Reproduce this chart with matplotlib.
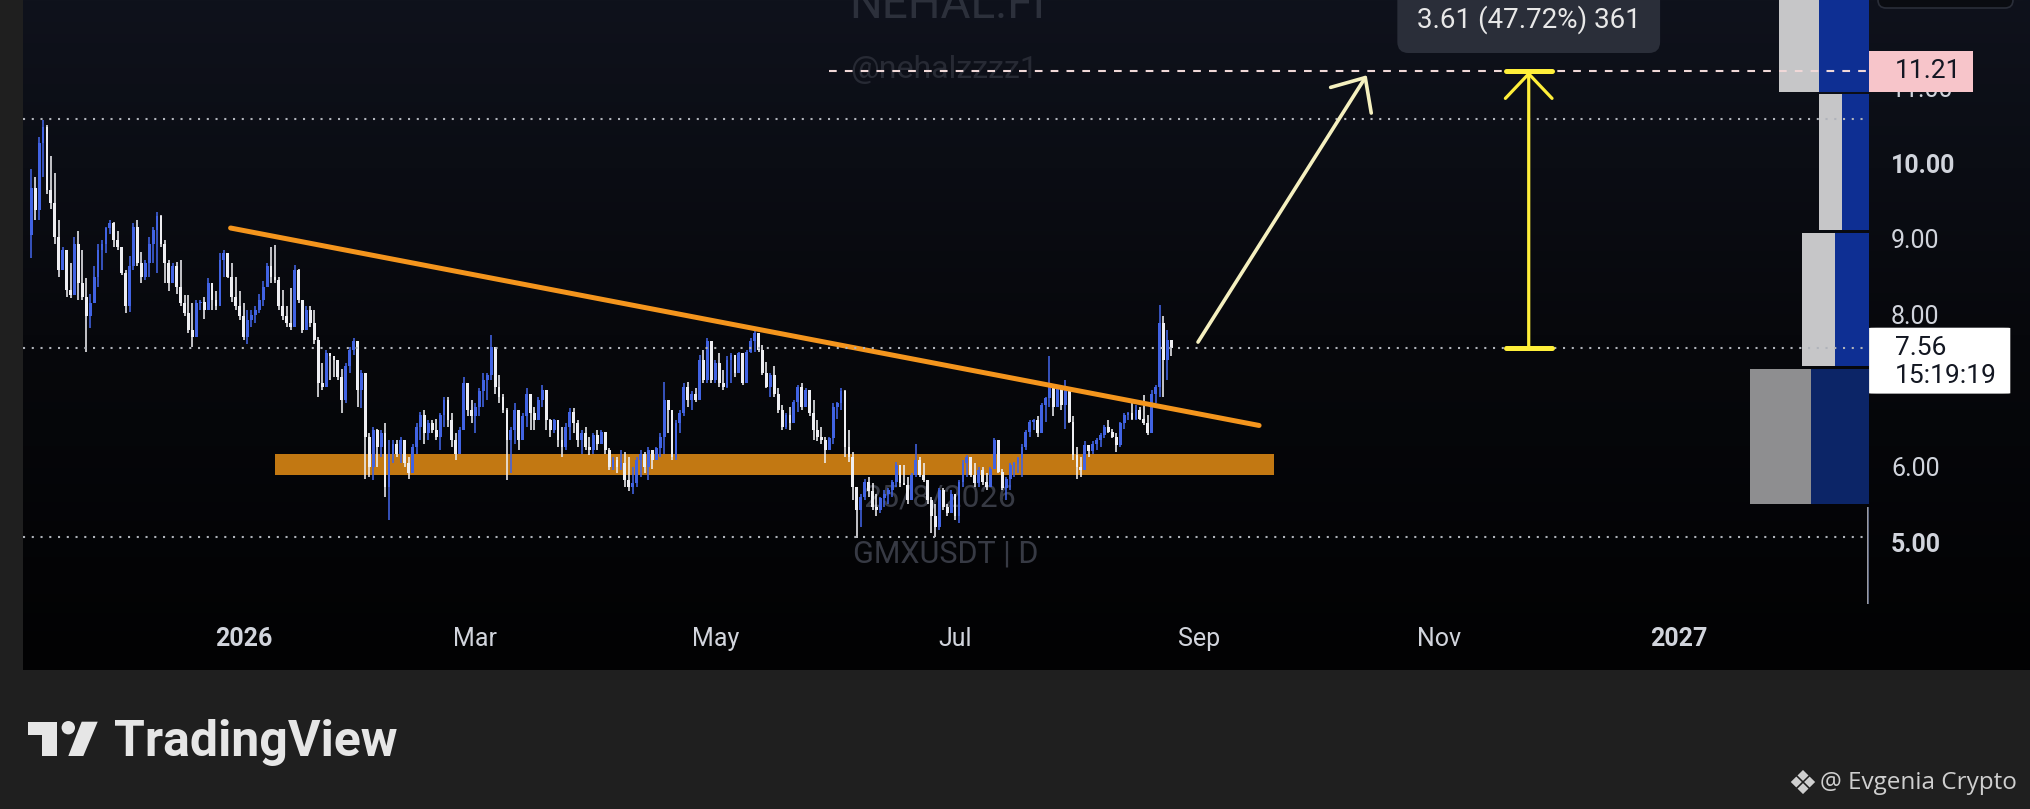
import numpy as np
import pandas as pd
import matplotlib
matplotlib.use("Agg")
import matplotlib.pyplot as plt
import matplotlib.dates as mdates
from matplotlib.colors import LinearSegmentedColormap
from matplotlib.patches import Rectangle, Polygon, Circle, FancyBboxPatch

plt.rcParams['font.family'] = ['Roboto', 'DejaVu Sans']

# ---- GMXUSDT daily candles ----
first_day = '2025-11-08'
first_open = 9.05
closes = [
    9.67, 9.38, 10.26, 10.48, 9.65, 9.47, 9.03, 8.59, 8.85, 8.33,
    8.26, 8.94, 8.42, 8.24, 7.98, 8.15, 8.50, 8.85, 8.94, 9.14,
    9.21, 8.99, 8.90, 8.55, 8.11, 8.64, 9.16, 8.68, 8.50, 8.68,
    8.94, 9.12, 9.30, 8.94, 8.68, 8.42, 8.64, 8.37, 8.15, 8.02,
    7.80, 7.71, 8.15, 8.17, 8.06, 8.42, 8.20, 8.11, 8.72, 8.81,
    8.50, 8.24, 8.11, 7.98, 7.71, 7.93, 8.00, 8.06, 8.20, 8.37,
    8.64, 8.50, 8.46, 8.11, 7.98, 7.89, 7.84, 8.59, 8.20, 7.80,
    8.06, 7.89, 7.67, 7.10, 7.05,
    7.49, 7.45, 7.40, 7.18, 6.88, 7.32, 7.54, 7.65, 7.01, 7.23,
    6.39, 5.99, 6.48, 6.26, 6.44, 5.73, 6.17, 6.30, 6.17, 6.35,
    6.04, 5.91, 6.26, 6.52, 6.68, 6.44, 6.57, 6.48, 6.39, 6.68,
    6.88, 6.61, 6.35, 6.17, 6.48, 7.10, 6.74, 6.66, 6.79, 6.99,
    7.14, 7.21, 7.58, 7.05, 6.92, 6.74, 6.35, 6.48, 6.74, 6.35,
    6.66, 6.96, 6.70, 6.61, 6.88, 7.01, 6.61, 6.48, 6.61, 6.35,
    6.26, 6.52, 6.72, 6.57, 6.35, 6.44, 6.26, 6.22, 6.41, 6.30,
    6.46, 6.22, 5.99, 6.08, 5.99, 6.04, 5.82, 5.73, 5.78, 6.08,
    6.17, 5.99, 6.22, 6.08, 6.24, 6.39, 6.88, 6.74, 6.13, 6.57,
    6.70, 7.05, 6.88, 6.96,
    6.88, 7.40, 7.14, 7.65, 7.14, 7.36, 7.10, 7.05, 7.40, 7.47,
    7.23, 7.49, 7.10, 7.51, 7.65, 7.76, 7.54, 7.23, 7.05, 7.21,
    6.96, 6.74, 6.52, 6.68, 6.57, 6.85, 7.05, 6.79, 7.01, 6.70,
    6.48, 6.39, 6.35, 6.22, 6.37, 6.79, 6.83, 6.99, 6.26, 6.13,
    5.73, 5.42, 5.60, 5.80, 5.67, 5.47, 5.42, 5.58, 5.64, 5.69,
    5.80, 6.02, 5.78, 5.76, 5.56, 5.89, 6.08, 5.88, 5.82, 5.56,
    5.34, 5.20, 5.69, 5.47, 5.38, 5.64, 5.34, 5.80, 6.04, 6.13,
    5.89, 5.78, 5.95, 5.80, 5.73, 5.97,
    6.35, 5.93, 5.72, 5.84, 6.02, 6.04, 6.11, 6.26, 6.46, 6.59,
    6.61, 6.44, 6.81, 6.90, 7.05, 6.79, 7.03, 6.81, 7.01, 6.59,
    6.15, 5.99, 5.95, 6.28, 6.20, 6.30, 6.35, 6.41, 6.52, 6.46,
    6.39, 6.28, 6.57, 6.68, 6.71, 6.63, 6.74, 6.63, 6.57, 6.44,
    6.96, 7.05, 7.89, 7.40, 7.67, 7.56,
]
highs = [
    9.93, 9.82, 10.35, 10.57, 10.50, 10.09, 9.87, 9.25, 8.90, 8.81,
    8.68, 9.03, 9.10, 8.85, 8.48, 8.28, 8.64, 8.94, 8.99, 9.16,
    9.25, 9.23, 9.10, 8.85, 8.59, 8.77, 9.21, 9.25, 8.83, 8.72,
    9.03, 9.16, 9.36, 9.32, 8.99, 8.72, 8.68, 8.70, 8.72, 8.26,
    8.26, 8.15, 8.20, 8.20, 8.24, 8.48, 8.37, 8.31, 8.81, 8.85,
    8.70, 8.68, 8.50, 8.31, 8.15, 8.06, 8.06, 8.11, 8.28, 8.44,
    8.68, 8.90, 8.92, 8.50, 8.33, 8.11, 8.35, 8.66, 8.61, 8.06,
    8.11, 8.11, 8.06, 7.71, 7.36,
    7.54, 7.47, 7.45, 7.38, 7.29, 7.36, 7.58, 7.69, 7.62, 7.27,
    7.10, 6.44, 6.52, 6.50, 6.48, 6.57, 6.35, 6.35, 6.35, 6.39,
    6.22, 6.13, 6.30, 6.57, 6.72, 6.74, 6.61, 6.61, 6.63, 6.70,
    6.92, 6.92, 6.70, 6.44, 6.52, 7.18, 7.10, 6.88, 6.83, 7.03,
    7.23, 7.23, 7.73, 7.54, 7.21, 6.96, 6.77, 6.52, 6.83, 6.57,
    6.70, 7.03, 6.74, 6.79, 6.92, 7.07, 6.99, 6.63, 6.63, 6.61,
    6.52, 6.57, 6.77, 6.77, 6.61, 6.48, 6.52, 6.39, 6.44, 6.48,
    6.48, 6.44, 6.24, 6.13, 6.13, 6.22, 6.19, 6.13, 5.99, 6.13,
    6.22, 6.19, 6.26, 6.19, 6.26, 6.44, 7.12, 6.88, 6.70, 6.61,
    6.74, 7.10, 7.12, 6.99,
    7.03, 7.47, 7.54, 7.69, 7.47, 7.40, 7.49, 7.27, 7.45, 7.49,
    7.45, 7.51, 7.32, 7.54, 7.69, 7.84, 7.69, 7.60, 7.38, 7.23,
    7.32, 7.03, 6.81, 6.70, 6.79, 6.88, 7.07, 7.10, 7.03, 6.99,
    6.88, 6.61, 6.52, 6.39, 6.39, 6.83, 6.85, 7.03, 7.01, 6.48,
    6.19, 5.73, 5.64, 5.84, 5.86, 5.78, 5.64, 5.60, 5.69, 5.71,
    5.82, 6.06, 5.91, 6.02, 5.86, 5.91, 6.30, 6.13, 6.04, 5.80,
    5.60, 5.51, 5.71, 5.71, 5.51, 5.69, 5.64, 5.82, 6.08, 6.15,
    6.04, 6.04, 5.99, 5.99, 5.91, 5.99,
    6.37, 6.13, 5.97, 5.86, 6.04, 6.06, 6.13, 6.30, 6.48, 6.61,
    6.63, 6.66, 6.83, 6.92, 7.45, 7.07, 7.05, 7.01, 7.14, 6.99,
    6.66, 6.26, 6.13, 6.33, 6.28, 6.33, 6.37, 6.44, 6.55, 6.61,
    6.50, 6.44, 6.59, 6.70, 6.72, 6.85, 6.81, 6.79, 6.94, 6.68,
    7.01, 7.07, 8.13, 7.99, 7.80, 7.67,
]
lows = [
    8.75, 9.25, 9.25, 9.82, 9.60, 9.40, 8.94, 8.50, 8.59, 8.24,
    8.22, 8.33, 8.20, 8.20, 7.51, 7.82, 8.15, 8.37, 8.59, 8.81,
    9.07, 8.90, 8.85, 8.53, 8.02, 8.04, 8.59, 8.64, 8.42, 8.46,
    8.50, 8.68, 8.55, 8.90, 8.42, 8.31, 8.42, 8.28, 8.11, 7.98,
    7.76, 7.58, 7.73, 8.06, 7.95, 8.06, 8.06, 8.06, 8.24, 8.50,
    8.48, 8.17, 8.06, 7.93, 7.67, 7.62, 7.84, 7.89, 8.02, 8.11,
    8.37, 8.42, 8.42, 8.06, 7.93, 7.84, 7.80, 7.84, 8.15, 7.76,
    7.87, 7.84, 7.62, 6.92, 7.01,
    7.10, 7.14, 7.18, 7.14, 6.70, 6.83, 7.23, 7.47, 6.79, 6.77,
    5.84, 5.86, 5.82, 5.99, 6.13, 5.60, 5.29, 6.04, 6.13, 6.04,
    5.99, 5.84, 5.91, 6.17, 6.35, 6.30, 6.35, 6.44, 6.35, 6.22,
    6.52, 6.52, 6.26, 6.08, 6.17, 6.48, 6.66, 6.57, 6.44, 6.66,
    6.79, 6.88, 7.14, 6.96, 6.83, 6.70, 5.82, 5.91, 6.30, 6.22,
    6.35, 6.52, 6.48, 6.48, 6.70, 6.79, 6.48, 6.39, 6.44, 6.26,
    6.13, 6.22, 6.35, 6.44, 6.26, 6.17, 6.22, 6.15, 6.17, 6.22,
    6.30, 6.17, 5.95, 5.95, 5.91, 5.95, 5.73, 5.67, 5.64, 5.73,
    5.86, 5.91, 5.82, 5.97, 6.08, 6.13, 6.17, 6.44, 6.08, 6.08,
    6.44, 6.66, 6.79, 6.74,
    6.85, 6.88, 7.10, 7.10, 7.10, 7.10, 7.05, 7.01, 7.03, 7.10,
    7.18, 7.27, 7.07, 7.14, 7.49, 7.51, 7.51, 7.21, 7.03, 6.92,
    6.92, 6.70, 6.48, 6.50, 6.48, 6.61, 6.72, 6.74, 6.79, 6.66,
    6.35, 6.33, 6.30, 6.04, 6.26, 6.30, 6.63, 6.74, 6.13, 6.06,
    5.56, 5.05, 5.20, 5.56, 5.60, 5.42, 5.34, 5.38, 5.47, 5.51,
    5.60, 5.73, 5.73, 5.75, 5.51, 5.56, 5.86, 5.86, 5.80, 5.51,
    5.12, 5.07, 5.16, 5.42, 5.34, 5.38, 5.29, 5.25, 5.73, 5.86,
    5.86, 5.73, 5.73, 5.75, 5.69, 5.73,
    6.08, 5.91, 5.69, 5.56, 5.69, 5.86, 5.91, 5.86, 6.22, 6.39,
    6.48, 6.39, 6.44, 6.59, 6.79, 6.66, 6.79, 6.74, 6.50, 6.57,
    6.08, 5.84, 5.86, 6.04, 6.13, 6.17, 6.22, 6.26, 6.37, 6.44,
    6.37, 6.19, 6.26, 6.50, 6.61, 6.61, 6.61, 6.61, 6.55, 6.41,
    6.46, 6.83, 6.92, 6.92, 7.14, 7.45,
]

# drawings on the chart
trend_dates = ['2025-12-28 17:00', '2026-09-16 08:00']
trend_prices = [9.145, 6.54]
band_dates = ['2026-01-09 02:00', '2026-09-20 05:00']
band_prices = [5.885, 6.17]
level_lines = [10.58, 7.56, 5.07]
target_price = 11.21
target_from = '2026-05-30'
last_price = 7.56
last_time = '15:19:19'
arrow_from = ('2026-08-31 19:00', 7.64)
arrow_to = ('2026-10-13 17:00', 11.16)
measure_date = '2026-11-23 22:00'
measure_text = '3.61 (47.72%) 361'
measure_label_price = 11.90

price_ticks = [5, 6, 8, 9, 10, 11]
time_ticks = ['2026-01-01', '2026-03-01', '2026-05-01', '2026-07-01',
              '2026-09-01', '2026-11-01', '2027-01-01']
time_labels = ['2026', 'Mar', 'May', 'Jul', 'Sep', 'Nov', '2027']

# visible range volume profile (relative widths)
vp_low = [10.93, 9.11, 7.31, 5.49, 3.68]
vp_high = [12.72, 10.92, 9.09, 7.30, 5.47]
vp_up = [38.6, 20.6, 26.0, 44.6, 1.0]
vp_down = [30.8, 18.0, 26.0, 47.0, 1.0]

BLUE = '#4163e3'
WHITE = '#eeeef2'
TXT = '#d1d4dc'

W, H = 2031, 809
fig = plt.figure(figsize=(W / 100, H / 100), dpi=100, facecolor='#1f1f1f')

# background: chart panel gradient + footer
bg = fig.add_axes([0, 0, 1, 1], zorder=0)
bg.set_xlim(0, W)
bg.set_ylim(H, 0)
bg.axis('off')
grad = np.linspace(0, 1, 256)[:, None]
cmap = LinearSegmentedColormap.from_list('panel', ['#0f121c', '#07080c', '#020203'])
bg.imshow(grad, extent=[23.3, W, 670, 0], cmap=cmap, aspect='auto', zorder=0)
bg.add_patch(FancyBboxPatch((1878, -20), 135, 28, boxstyle='round,pad=0,rounding_size=8',
                            fc='#0a0c11', ec='#2a2e39', lw=1.2, zorder=1))

# TradingView logo
lc = '#e6e6e6'
bg.add_patch(Rectangle((28.3, 721.7), 28.4, 13.3, fc=lc, ec='none'))
bg.add_patch(Rectangle((41.7, 721.7), 15.0, 34.3, fc=lc, ec='none'))
bg.add_patch(Circle((68.3, 727.7), 6.7, fc=lc, ec='none'))
bg.add_patch(Polygon([(81.7, 721.7), (97.7, 721.7), (83.3, 756), (68.3, 756)], closed=True, fc=lc, ec='none'))
bg.text(114, 756, 'TradingView', fontsize=36, fontweight='bold', color=lc, va='baseline', ha='left')

bg.text(1802, 784, '\u2756', family='DejaVu Sans', fontsize=24, color='#cfcfcf', ha='center', va='center')
bg.text(2017, 783, '@ Evgenia Crypto', family=['Open Sans', 'DejaVu Sans'], fontsize=17.5,
        color='#cfcfcf', ha='right', va='center')

# watermarks
fig.text(947 / W, 1 - 18 / H, 'NEHAL.FI', fontsize=33, color='#2c303b', ha='center', va='baseline', zorder=1)
fig.text(944 / W, 1 - 69 / H, '@nehalzzzz1', fontsize=23, color='#272a34', ha='center', va='center', zorder=1)
fig.text(940 / W, 1 - 498 / H, '25/8/2026', fontsize=23, color='#373a44', ha='center', va='center', zorder=1)
fig.text(946 / W, 1 - 554 / H, 'GMXUSDT | D', fontsize=22, color='#373a44', ha='center', va='center', zorder=1)

rect = [23.3 / W, 1 - 603.6 / H, (1869.1 - 23.3) / W, 603.6 / H]
base = mdates.date2num(pd.Timestamp('2026-01-01'))
xlim = (base - 56.02, base + 413.5)
ylim = (4.19, 12.153)

# volume profile under the main pane
vp = fig.add_axes(rect, zorder=1.5)
vp.set_facecolor('none')
vp.axis('off')
vp.set_xlim(1425, 0)
vp.set_ylim(ylim)
vp_lo = np.array(vp_low)
vp_hi = np.array(vp_high)
up_cols = ['#0e2f93', '#0e2f93', '#0e2f93', '#0c2567', '#5d6680']
dn_cols = ['#c6c6c8', '#c6c6c8', '#c6c6c8', '#8e8e90', '#9a9aa0']
vp.barh((vp_lo + vp_hi) / 2, vp_up, height=vp_hi - vp_lo - 0.02, left=0, color=up_cols, lw=0)
vp.barh((vp_lo + vp_hi) / 2, vp_down, height=vp_hi - vp_lo - 0.02, left=vp_up, color=dn_cols, lw=0)

# main price pane
ax = fig.add_axes(rect, zorder=2)
ax.set_facecolor('none')
ax.set_xlim(xlim)
ax.set_ylim(ylim)
for s in ax.spines.values():
    s.set_visible(False)

dates = pd.date_range(first_day, periods=len(closes), freq='D')
x = mdates.date2num(dates)
c = np.array(closes)
o = np.concatenate([[first_open], c[:-1]])
col = np.where(c >= o, BLUE, WHITE)
ax.vlines(x, lows, highs, colors=col, lw=1.15, zorder=3)
ax.bar(x, np.maximum(np.abs(c - o), 0.025), bottom=np.minimum(o, c), width=0.72,
       color=col, lw=0, zorder=3)

bd = mdates.date2num(pd.to_datetime(band_dates))
ax.add_patch(Rectangle((bd[0], band_prices[0]), bd[1] - bd[0], band_prices[1] - band_prices[0],
                       fc='#c27812', ec='none', zorder=2))
td = mdates.date2num(pd.to_datetime(trend_dates))
ax.plot(td, trend_prices, color='#f4951d', lw=3.6, solid_capstyle='round', zorder=4)

for lv in level_lines:
    ax.axhline(lv, color='#b0b3ba', lw=1.5, ls=(0, (1, 3.2)), zorder=5)
ax.hlines(target_price, mdates.date2num(pd.Timestamp(target_from)), xlim[1],
          color='#f0d8d8', lw=1.5, linestyles=[(0, (3.7, 3.9))], zorder=5)

a0 = (mdates.date2num(pd.Timestamp(arrow_from[0])), arrow_from[1])
a1 = (mdates.date2num(pd.Timestamp(arrow_to[0])), arrow_to[1])
ax.annotate('', xy=a1, xytext=a0, zorder=6,
            arrowprops=dict(arrowstyle='->,head_length=1.93,head_width=1.73', mutation_scale=10,
                            color='#f5f0bf', lw=2.6, shrinkA=0, shrinkB=0))

md = mdates.date2num(pd.Timestamp(measure_date))
ax.annotate('', xy=(md, target_price), xytext=(md, last_price), zorder=6,
            arrowprops=dict(arrowstyle='->,head_length=1.77,head_width=1.68', mutation_scale=10,
                            color='#ffef3a', lw=2.3, shrinkA=0, shrinkB=0))
for yy in (last_price, target_price):
    ax.plot([md - 5.8, md + 5.8], [yy, yy], color='#ffef3a', lw=3.6, solid_capstyle='round', zorder=6)
ax.text(md, measure_label_price, measure_text, fontsize=20, color='#e8e8e8', ha='center', va='center',
        zorder=7, bbox=dict(boxstyle='round,pad=0.7,rounding_size=0.4', fc='#2a2e39', ec='none'))

# axes labels
ax.yaxis.tick_right()
ax.set_yticks(price_ticks)
ylabs = ax.set_yticklabels([f'{p:.2f}' for p in price_ticks])
ax.tick_params(axis='y', length=0, pad=15.8, labelsize=18, labelcolor=TXT)
for t in ylabs:
    if t.get_text() in ('10.00', '5.00'):
        t.set_fontweight('bold')
ax.set_xticks(mdates.date2num(pd.to_datetime(time_ticks)))
xlabs = ax.set_xticklabels(time_labels)
ax.tick_params(axis='x', length=0, pad=17, labelsize=18, labelcolor=TXT)
for t in xlabs:
    if t.get_text() in ('2026', '2027'):
        t.set_fontweight('bold')

# price tags on the scale
yx = ax.get_yaxis_transform()
ax.add_patch(Rectangle((1.0, target_price - 0.265), 0.0563, 0.53, transform=yx,
                       fc='#f7c5ca', ec='none', clip_on=False, zorder=20))
ax.text(1.0141, target_price, f'{target_price:.2f}', transform=yx, color='#131722', fontsize=19,
        va='center', ha='left', zorder=21, clip_on=False)
ax.add_patch(FancyBboxPatch((1.0, 6.96), 0.0765, 0.87, transform=yx,
                            boxstyle='round,pad=0,rounding_size=0.004',
                            fc='#ffffff', ec='none', clip_on=False, zorder=20))
ax.text(1.0141, last_price, f'{last_price:.2f}', transform=yx, color='#131722', fontsize=19,
        va='center', ha='left', zorder=21, clip_on=False)
ax.text(1.0141, 7.197, last_time, transform=yx, color='#131722', fontsize=19,
        va='center', ha='left', zorder=21, clip_on=False)

fig.savefig('out.png', dpi=100, facecolor=fig.get_facecolor())
